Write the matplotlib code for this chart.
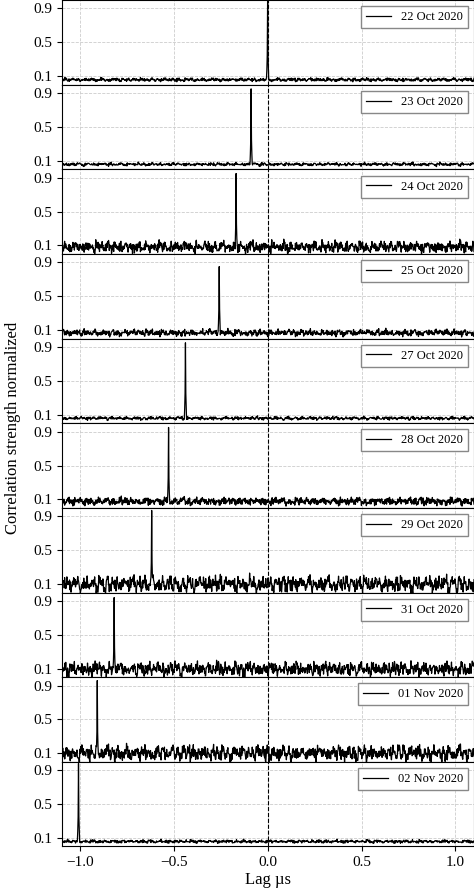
import numpy as np
import matplotlib.pyplot as plt

plt.rcParams['font.family'] = ['Liberation Serif', 'DejaVu Serif']

dates = ['22 Oct 2020', '23 Oct 2020', '24 Oct 2020', '25 Oct 2020', '27 Oct 2020',
         '28 Oct 2020', '29 Oct 2020', '31 Oct 2020', '01 Nov 2020', '02 Nov 2020']
peak_lag = [0.0, -0.09, -0.17, -0.26, -0.44, -0.53, -0.62, -0.82, -0.91, -1.01]
peak_height = [1.0, 0.95, 0.95, 0.85, 0.95, 0.95, 0.97, 0.94, 0.96, 0.98]
base_level = [0.06, 0.06, 0.09, 0.07, 0.06, 0.08, 0.11, 0.10, 0.11, 0.06]
noise_amp = [0.03, 0.03, 0.10, 0.06, 0.03, 0.07, 0.15, 0.12, 0.14, 0.03]
# hand-typed noise shape, reused with different strides for every panel
noise_shape = [0.31, 0.82, 0.12, 0.55, 0.97, 0.23, 0.64, 0.08, 0.45, 0.71,
               0.19, 0.88, 0.37, 0.02, 0.59, 0.93, 0.27, 0.50, 0.14, 0.76,
               0.41, 0.66, 0.05, 0.84, 0.33, 0.61, 0.22, 0.99, 0.48, 0.11,
               0.73, 0.36, 0.57, 0.17, 0.90, 0.29, 0.68, 0.03, 0.52, 0.79,
               0.25, 0.44, 0.86, 0.09, 0.62, 0.39, 0.15, 0.95, 0.34, 0.70,
               0.07, 0.58, 0.21, 0.81, 0.46, 0.13, 0.67, 0.92, 0.28, 0.54,
               0.01, 0.75, 0.42, 0.18, 0.87, 0.60, 0.26]

lag = np.linspace(-1.1, 1.1, 1100)
shape = np.array(noise_shape)
n = len(shape)

fig, axes = plt.subplots(len(dates), 1, sharex=True, figsize=(4.74, 8.91), dpi=100)
fig.subplots_adjust(left=0.13, right=1.0, top=1.0, bottom=0.05, hspace=0.0)

k = np.arange(len(lag))
for i, ax in enumerate(axes):
    a = shape[(k * (3 + 2 * i)) % n]
    b = shape[(k // 7 + 5 * i) % n]
    c = shape[(k * k // 3 + i) % n]
    y = base_level[i] + noise_amp[i] * ((a + b + c) / 1.5 - 1.0)
    p = np.argmin(np.abs(lag - peak_lag[i]))
    y[p] = peak_height[i]
    y[p - 1] = y[p + 1] = 0.35
    y[p - 2] = y[p + 2] = 0.18
    ax.plot(lag, y, color='black', lw=0.9, label=dates[i])
    ax.axvline(0, color='black', ls='--', lw=0.8)
    ax.grid(True, ls='--', color='#cccccc', lw=0.6)
    ax.set_ylim(0.0, 1.0)
    ax.set_yticks([0.1, 0.5, 0.9])
    ax.set_xlim(-1.1, 1.1)
    ax.tick_params(labelsize=11)
    ax.legend(loc='upper right', fontsize=9, fancybox=False, edgecolor='#888888',
              handlelength=2.0, framealpha=1)

axes[-1].set_xticks([-1.0, -0.5, 0.0, 0.5, 1.0])
axes[-1].set_xlabel('Lag µs', fontsize=12, labelpad=2)
fig.text(0.01, 0.52, 'Correlation strength normalized', rotation=90,
         va='center', ha='left', fontsize=12)
plt.savefig('out.png')
